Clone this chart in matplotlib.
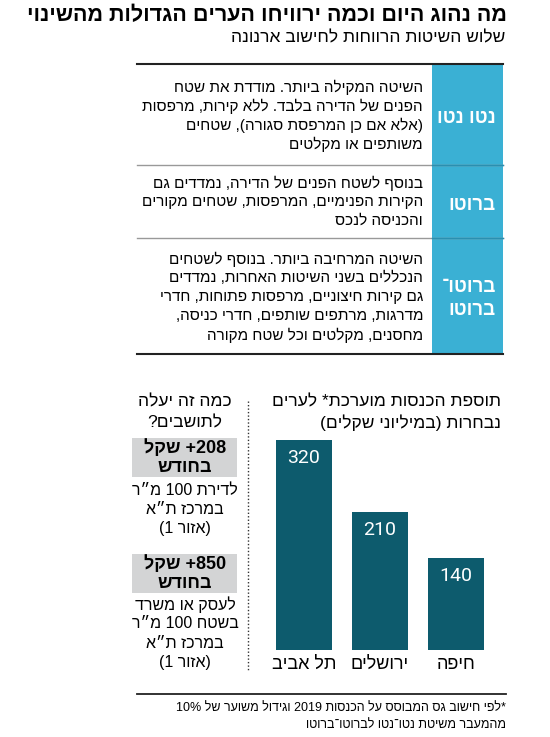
import re
import matplotlib
matplotlib.use("Agg")
import matplotlib.pyplot as plt
from matplotlib.patches import Rectangle

plt.rcParams['font.family'] = ['Liberation Sans', 'DejaVu Sans']

def rtl(s):
    r = s[::-1]
    r = r.translate(str.maketrans("()", ")("))
    return re.sub(r"[0-9%]+", lambda m: m.group(0)[::-1], r)

title = "מה נהוג היום וכמה ירוויחו הערים הגדולות מהשינוי"
subtitle = "שלוש השיטות הרווחות לחישוב ארנונה"
methods = [["נטו נטו"], ["ברוטו"], ["ברוטו־", "ברוטו"]]
descs = [
    ["השיטה המקילה ביותר. מודדת את שטח", "הפנים של הדירה בלבד. ללא קירות, מרפסות",
     "(אלא אם כן המרפסת סגורה), שטחים", "משותפים או מקלטים"],
    ["בנוסף לשטח הפנים של הדירה, נמדדים גם", "הקירות הפנימיים, המרפסות, שטחים מקורים",
     "והכניסה לנכס"],
    ["השיטה המרחיבה ביותר. בנוסף לשטחים", "הנכללים בשני השיטות האחרות, נמדדים",
     "גם קירות חיצוניים, מרפסות פתוחות, חדרי", "מדרגות, מרתפים שותפים, חדרי כניסה,",
     "מחסנים, מקלטים וכל שטח מקורה"],
]
chart_title = ["תוספת הכנסות מוערכת* לערים", "נבחרות (במיליוני שקלים)"]
cities = ["תל אביב", "ירושלים", "חיפה"]
values = [320, 210, 140]
side_title = ["כמה זה יעלה", "לתושבים?"]
boxes = [["208+ שקל", "בחודש"], ["850+ שקל", "בחודש"]]
box_notes = [["לדירת 100 מ״ר", "במרכז ת״א", "(אזור 1)"],
             ["לעסק או משרד", "בשטח 100 מ״ר", "במרכז ת״א", "(אזור 1)"]]
footnote = ["*לפי חישוב גס המבוסס על הכנסות 2019 וגידול משוער של 10%",
            "מהמעבר משיטת נטו־נטו לברוטו־ברוטו"]

W, H = 550, 737
fig = plt.figure(figsize=(W/100, H/100), dpi=100)
bg = fig.add_axes([0, 0, 1, 1])
bg.set_xlim(0, W); bg.set_ylim(H, 0); bg.axis('off')

bg.text(507, 16, rtl(title), ha='right', va='center', fontsize=15.5, fontweight='bold')
bg.text(505, 38, rtl(subtitle), ha='right', va='center', fontsize=12.5)

# table
blue = '#3ab0d4'
bg.add_patch(Rectangle((432, 64), 71, 290, color=blue, lw=0))
bg.plot([137, 503], [64, 64], color='#222', lw=1.5)
for y in (165, 238):
    bg.plot([137, 503], [y, y], color='#999', lw=1)
    bg.plot([432, 503], [y, y], color='#2a8fb0', lw=1)
bg.plot([137, 503], [354, 354], color='#222', lw=1.5)
label_y = [[118], [205], [287, 310]]
line_y = [[87, 106, 125, 144], [183, 202, 221], [259, 278, 297, 316, 335]]
for m, ly, d, dy in zip(methods, label_y, descs, line_y):
    for t, y in zip(m, ly):
        bg.text(496, y, rtl(t), ha='right', va='center', color='white',
                fontsize=13.5, fontweight='bold')
    for t, y in zip(d, dy):
        bg.text(423, y, rtl(t), ha='right', va='center', fontsize=11)

# chart
bg.text(501, 402, rtl(chart_title[0]), ha='right', va='center', fontsize=12.5)
bg.text(501, 423, rtl(chart_title[1]), ha='right', va='center', fontsize=12.5)
bg.plot([248, 248], [401, 670], color='#333', lw=1, ls=(0, (1, 1.5)))

ax = fig.add_axes([262/W, 1-650/H, 236/W, 210/H])
ax.set_xlim(-0.55, 2.55); ax.set_ylim(0, 320); ax.axis('off')
ax.bar(range(3), values, width=0.74, color='#0d5b6d')
for i, v in enumerate(values):
    ax.text(i, v - 27, str(v), ha='center', va='center', color='white', fontsize=14,
            family=['Roboto', 'DejaVu Sans'], stretch='condensed')
    ax.text(i, -22, rtl(cities[i]), ha='center', va='center', fontsize=13, clip_on=False)

# side column
bg.text(185, 402, rtl(side_title[0]), ha='center', va='center', fontsize=12.5)
bg.text(185, 423, rtl(side_title[1]), ha='center', va='center', fontsize=12.5)
box_y = [438, 554]
note_y = [[490, 509, 528], [605, 624, 643, 662]]
for b, by, n, ny in zip(boxes, box_y, box_notes, note_y):
    bg.add_patch(Rectangle((132, by), 105, 39, color='#d3d4d5', lw=0))
    bg.text(185, by + 10, rtl(b[0]), ha='center', va='center', fontsize=13, fontweight='bold')
    bg.text(185, by + 29, rtl(b[1]), ha='center', va='center', fontsize=13, fontweight='bold')
    for t, y in zip(n, ny):
        bg.text(185, y, rtl(t), ha='center', va='center', fontsize=11.5)

bg.plot([137, 506], [694, 694], color='#222', lw=1.3)
bg.text(506, 708, rtl(footnote[0]), ha='right', va='center', fontsize=9)
bg.text(506, 725, rtl(footnote[1]), ha='right', va='center', fontsize=9)

fig.savefig('out.png', dpi=100)
